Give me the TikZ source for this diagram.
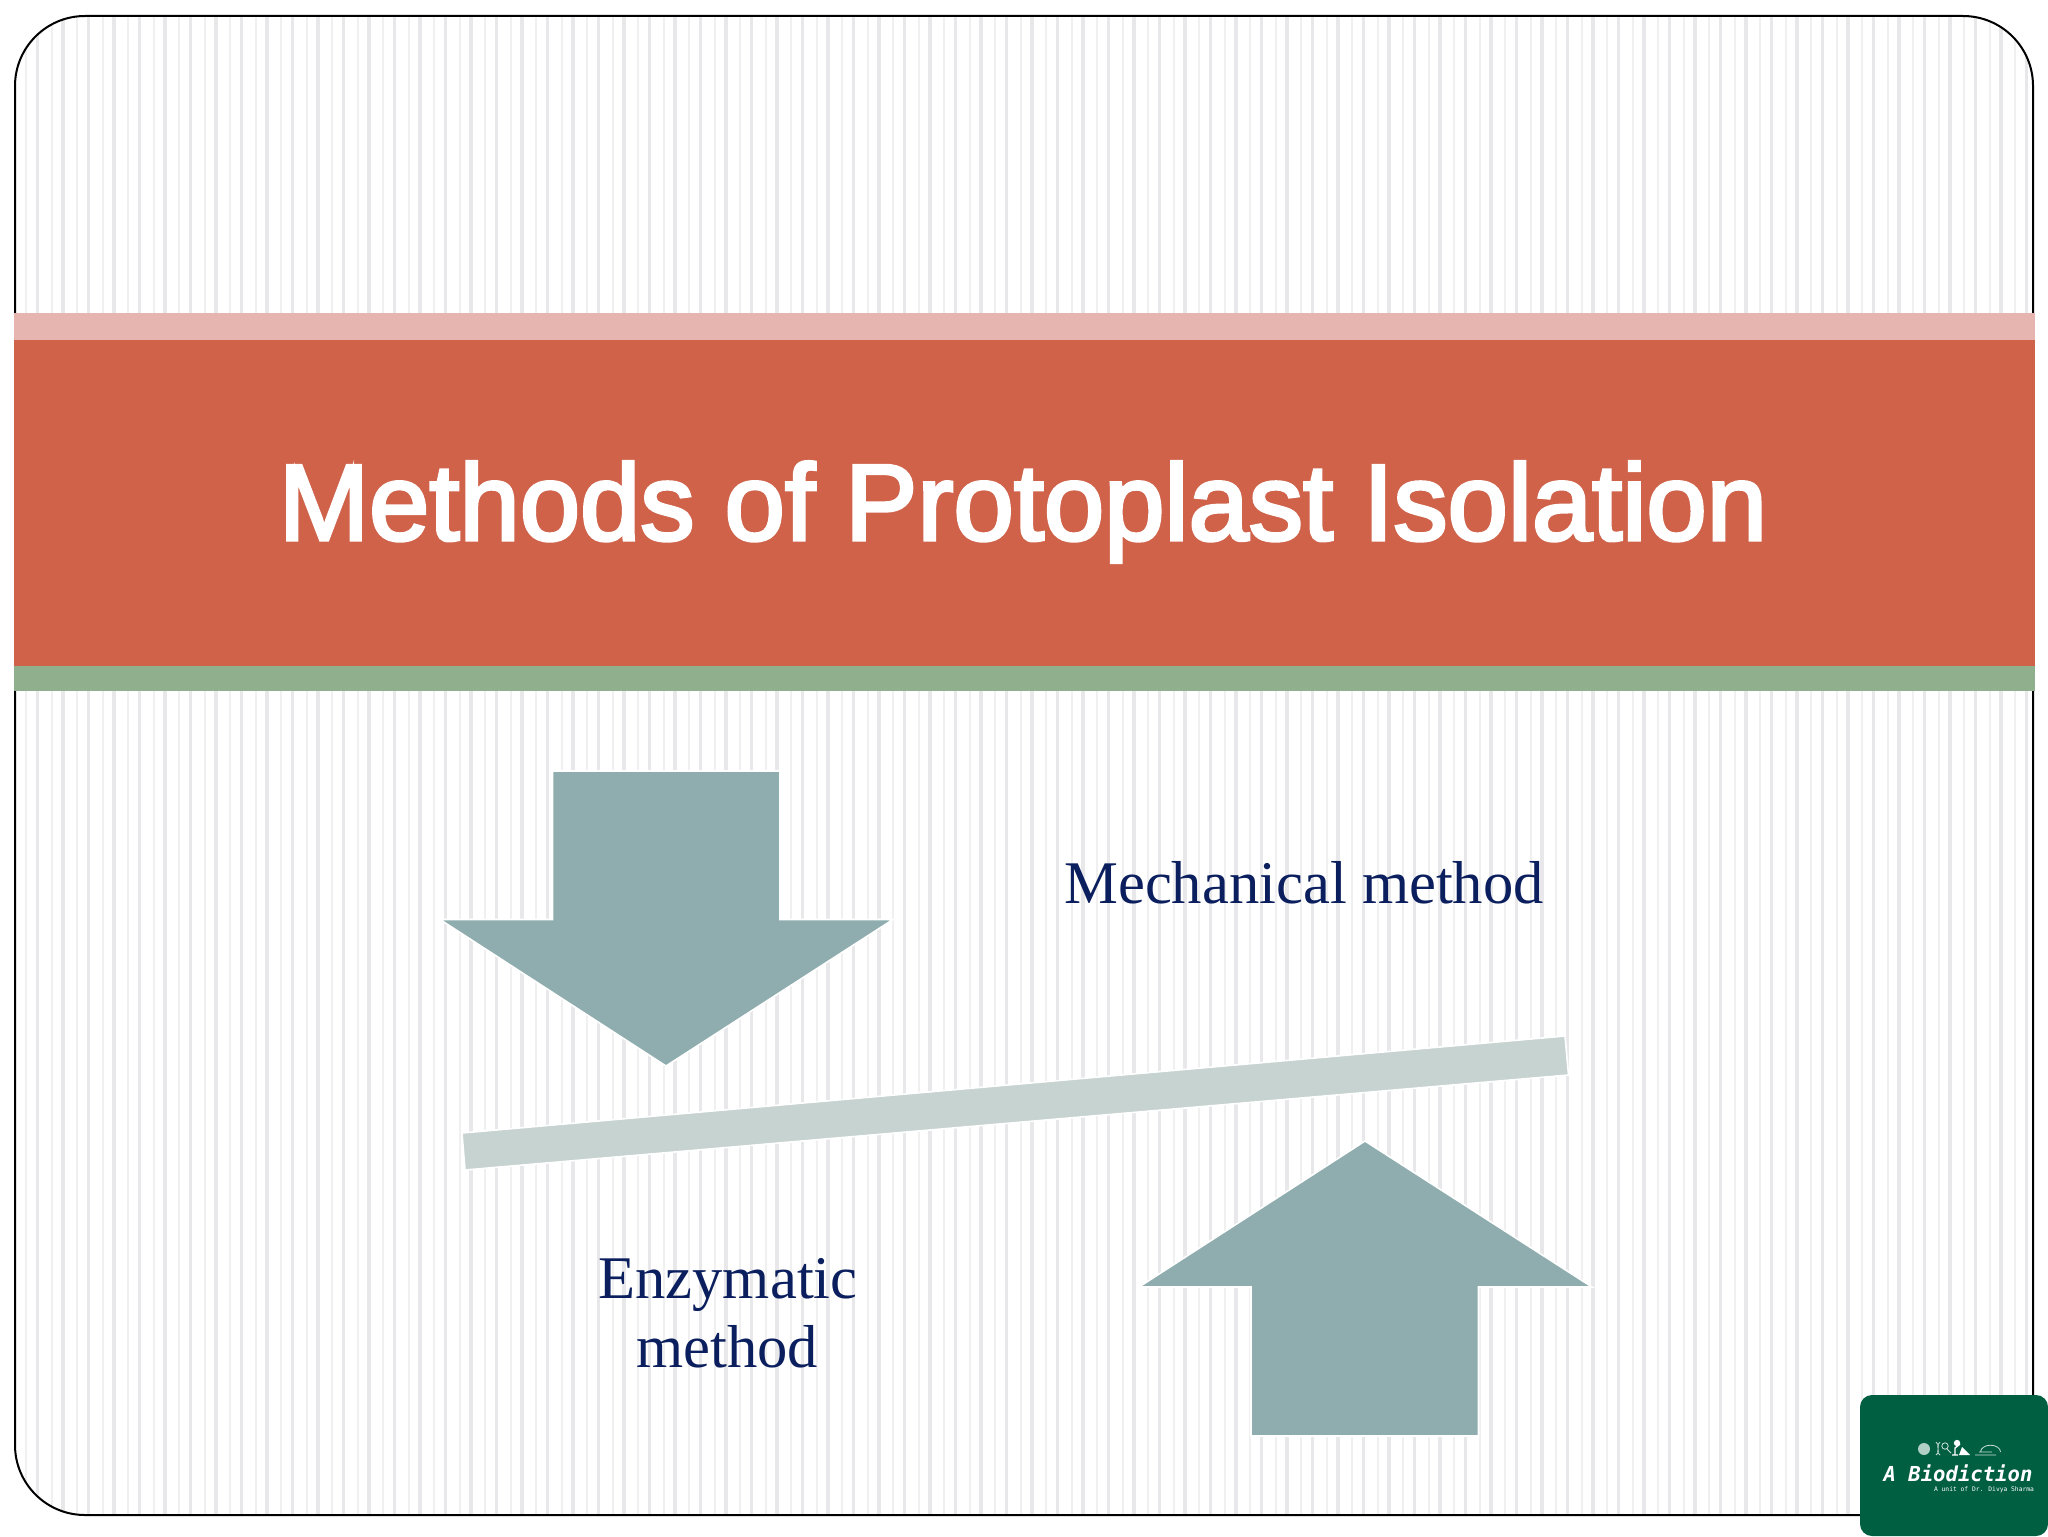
\documentclass[tikz,border=0pt]{standalone}
\usepackage{fontspec}
\setmainfont{Liberation Sans}
\newfontfamily\serifbody{Liberation Serif}
\newfontfamily\logofont{DejaVu Sans Mono}
\newfontfamily\titlefont[FakeBold=3]{Liberation Sans}
\definecolor{bandred}{HTML}{D0624A}
\definecolor{bandpink}{HTML}{E6B5B0}
\definecolor{bandgreen}{HTML}{90AF8D}
\definecolor{arrowteal}{HTML}{8FACAE}
\definecolor{barteal}{HTML}{C6D3D1}
\definecolor{bodynavy}{HTML}{0B1F5E}
\definecolor{logogreen}{HTML}{005F41}
\definecolor{stripethick}{HTML}{E8E8EA}
\definecolor{stripethin}{HTML}{F0F0F0}
\tikzset{
  x=0.5pt,y=-0.5pt,
  blockarrow/.style={fill=arrowteal,draw=white,line width=0.8pt,line join=miter},
  bodytext/.style={text=bodynavy,font=\serifbody\fontsize{30.3}{36}\selectfont,align=center,inner sep=0pt},
  framepath/.style={draw=black,line width=1pt},
  logoicon/.style={white!80!logogreen,line width=0.4pt}
}
\begin{document}
\begin{tikzpicture}
\useasboundingbox (0,0) rectangle (2048,1536);
\fill[white] (0,0) rectangle (2048,1536);
\begin{scope}
\clip[rounded corners=35pt] (15,16) rectangle (2033,1515);
\foreach \k in {0,...,79}{
  \draw[stripethin,line width=1pt] ({26+25.5*\k},0) -- ({26+25.5*\k},1536);
  \draw[stripethick,line width=1.7pt] ({37.6+25.5*\k},0) -- ({37.6+25.5*\k},1536);
}
\end{scope}
\draw[framepath,rounded corners=35pt] (15,16) rectangle (2033,1515);
\fill[bandpink] (14,313) rectangle (2035,340);
\fill[bandred] (14,340) rectangle (2035,666);
\fill[bandgreen] (14,666) rectangle (2035,691);
\node[inner sep=0pt,anchor=base,text=white,font=\titlefont\fontsize{54.2}{60}\selectfont] (title) at (1023,540) {Methods of Protoplast Isolation};
\draw[blockarrow] (552.5,771) -- (780,771) -- (780,919.5) -- (893,919.5) -- (666,1066) -- (440,919.5) -- (552.5,919.5) -- cycle;
\draw[blockarrow] (1251,1436) -- (1478.5,1436) -- (1478.5,1287) -- (1592,1287) -- (1365,1141) -- (1139,1287) -- (1251,1287) -- cycle;
\draw[fill=barteal,draw=white,line width=0.8pt] (462,1133) -- (1565,1036) -- (1568.5,1075) -- (465,1170) -- cycle;
\node[bodytext,anchor=base] (mech) at (1304,903.5) {Mechanical method};
\node[bodytext,anchor=base] (enz) at (728,1298) {Enzymatic};
\node[bodytext,anchor=base] (enzb) at (727,1367) {method};
\fill[logogreen,rounded corners=6pt] (1860,1395) rectangle (2048,1536);
\node[inner sep=0pt,anchor=base,text=white,font=\logofont\bfseries\fontsize{10.3}{12}\selectfont] (logo) at (1958,1481) {\itshape A Biodiction};
\node[inner sep=0pt,anchor=base,text=white,font=\logofont\fontsize{3.15}{4}\selectfont] (logosub) at (1984,1491.5) {A unit of Dr. Divya Sharma};
% icons
\fill[white!70!logogreen] (1924,1449) circle (3pt);
\draw[logoicon] (1936,1442) .. controls (1942,1448) and (1934,1450) .. (1940,1455)
  (1940,1442) .. controls (1934,1448) and (1942,1450) .. (1936,1455);
\draw[logoicon] (1945,1446) circle (1.6pt) (1947,1449) -- (1951,1453);
\fill[white] (1959,1455) -- (1970,1455) -- (1962,1447) -- cycle;
\fill[white] (1957,1443) circle (1.6pt);
\draw[white,line width=0.7pt] (1952,1455) -- (1958,1455) (1955,1455) -- (1955,1448) -- (1960,1444);
\draw[logoicon] (1975,1455) -- (1996,1455) (1979,1452) -- (1992,1452) (1980.5,1452) arc (180:0:5pt and 3.4pt);
\end{tikzpicture}
\end{document}
